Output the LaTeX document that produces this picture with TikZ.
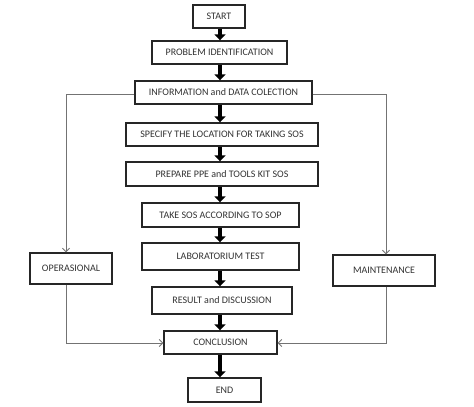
\documentclass[tikz,border=0pt]{standalone}
\usepackage{fontspec}
\setmainfont{Carlito}
\usetikzlibrary{arrows.meta}
\begin{document}
\begin{tikzpicture}[x=1pt,y=-1pt,
  boxnode/.style={draw=black!85,line width=1.4pt,inner sep=0pt,font=\fontsize{10}{12}\selectfont,text=black!80},
  thickarrow/.style={draw=black,line width=4.5pt,-{Triangle[width=11pt,length=6pt]}},
  sidearrow/.style={draw=black!55,line width=0.8pt,-{Straight Barb[length=3.5pt,width=7pt]}}]
\useasboundingbox (0,0) rectangle (474,407);
\fill[white] (0,0) rectangle (474,407);
\newcommand{\bx}[6]{\node[boxnode,minimum width=#4-#2,minimum height=#5-#3] (#1) at ({(#2+#4)/2},{(#3+#5)/2}) {#6};}
\bx{start}{193}{5}{245}{28}{START}
\bx{prob}{152}{41}{287}{64}{PROBLEM IDENTIFICATION}
\bx{info}{135}{81}{312}{104}{INFORMATION and DATA COLECTION}
\bx{spec}{126}{123}{318}{146}{SPECIFY THE LOCATION FOR TAKING SOS}
\bx{prep}{126}{162}{318}{186}{PREPARE PPE and TOOLS KIT SOS}
\bx{take}{142}{203}{299}{227}{TAKE SOS ACCORDING TO SOP}
\bx{lab}{142}{243}{299}{270}{LABORATORIUM TEST}
\bx{res}{152}{287}{292}{314}{RESULT and DISCUSSION}
\bx{conc}{164}{331}{277}{354}{CONCLUSION}
\bx{endn}{188}{378}{261}{402}{END}
\bx{oper}{30}{253}{112}{284}{OPERASIONAL}
\bx{main}{333}{255}{435}{286}{MAINTENANCE}
\foreach \a/\b in {start/prob,prob/info,info/spec,spec/prep,prep/take,take/lab,lab/res,res/conc,conc/endn}
  \draw[thickarrow] (\a.south -| 220,0) -- (\b.north -| 220,0);
\draw[sidearrow] (info.west |- 0,94) -| (oper.north -| 66,0);
\draw[sidearrow] (info.east |- 0,94) -| (main.north -| 386,0);
\draw[sidearrow] (oper.south -| 66,0) |- (conc.west |- 0,343);
\draw[sidearrow] (main.south -| 386,0) |- (conc.east |- 0,343);
\end{tikzpicture}
\end{document}
